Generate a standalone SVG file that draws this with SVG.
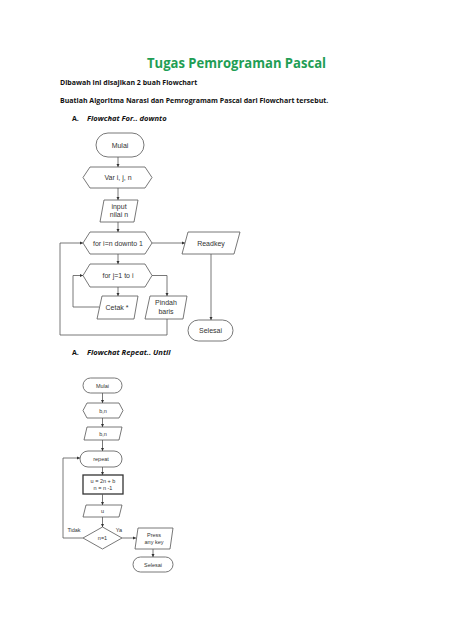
<svg xmlns="http://www.w3.org/2000/svg" width="474" height="632" viewBox="0 0 474 632">
<defs>
<marker id="ah" viewBox="0 0 6 6" refX="6" refY="3" markerWidth="4" markerHeight="4" orient="auto">
<path d="M0,0 L6,3 L0,6 z" fill="#333"/>
</marker>
<style>
.title{font-family:"Open Sans","Liberation Sans",sans-serif;font-weight:bold;font-size:15px;fill:#1f9e55}
.body{font-family:"Open Sans","Liberation Sans",sans-serif;font-weight:bold;font-size:7px;fill:#111}
.ital{font-style:italic;font-size:7.6px}
.shp{fill:#fff;stroke:#555;stroke-width:0.8}
.thick{fill:#fff;stroke:#333;stroke-width:1.3}
.lbl{font-family:"Liberation Sans",Arial,sans-serif;font-size:7px;fill:#333;text-anchor:middle}
.sm{font-size:5.5px}
.ln{fill:none;stroke:#555;stroke-width:0.8}
.arr{fill:none;stroke:#555;stroke-width:0.8;marker-end:url(#ah)}
</style>
</defs>
<rect width="474" height="632" fill="#fff"/>
<text class="title" x="147" y="68" textLength="179" lengthAdjust="spacingAndGlyphs">Tugas Pemrograman Pascal</text>
<text class="body" x="60" y="85">Dibawah ini disajikan 2 buah Flowchart</text>
<text class="body" x="60" y="103">Buatlah Algoritma Narasi dan Pemrogramam Pascal dari  Flowchart tersebut.</text>
<text class="body" x="72" y="121">A.</text>
<text class="body ital" x="87" y="121">Flowchat For.. downto</text>
<text class="body" x="72" y="355">A.</text>
<text class="body ital" x="87" y="355">Flowchat Repeat.. Until</text>

<!-- Flowchart 1 -->
<g id="f1-mulai"><rect class="shp" x="96" y="133" width="48" height="24" rx="12"/><text class="lbl" x="120" y="147.5">Mulai</text></g>
<g id="f1-var"><polygon class="shp" points="83,177.5 90,167 145,167 152,177.5 145,188 90,188"/><text class="lbl" x="118" y="180">Var  i, j,  n</text></g>
<g id="f1-input"><polygon class="shp" points="104,200 138,200 134,222 100,222"/><text class="lbl" x="119" y="209">input</text><text class="lbl" x="119" y="217">nilai  n</text></g>
<g id="f1-fori"><polygon class="shp" points="83,243 90,232 145,232 152,243 145,254 90,254"/><text class="lbl" x="118" y="245.5">for i=n downto 1</text></g>
<g id="f1-readkey"><polygon class="shp" points="188,232 240,232 234,254 182,254"/><text class="lbl" x="211" y="245.5">Readkey</text></g>
<g id="f1-forj"><polygon class="shp" points="83,275.5 90,264 145,264 152,275.5 145,287 90,287"/><text class="lbl" x="118" y="278">for j=1 to i</text></g>
<g id="f1-cetak"><polygon class="shp" points="102,296 138,296 134,319 97,319"/><text class="lbl" x="117" y="310">Cetak *</text></g>
<g id="f1-pindah"><polygon class="shp" points="150,296 187,296 183,319 145,319"/><text class="lbl" x="166" y="305">Pindah</text><text class="lbl" x="166" y="314">baris</text></g>
<g id="f1-selesai"><rect class="shp" x="188" y="320" width="45" height="21" rx="10.5"/><text class="lbl" x="210.5" y="333">Selesai</text></g>

<g id="f1-connectors">
<path class="arr" d="M118,157 V167"/>
<path class="arr" d="M118,188 V200"/>
<path class="arr" d="M118,222 V232"/>
<path class="arr" d="M118,254 V264"/>
<path class="arr" d="M118,287 V296"/>
<path class="arr" d="M152,243 H185"/>
<path class="arr" d="M211,254 V320"/>
<path class="arr" d="M152,275.5 H167 V296"/>
<path class="arr" d="M99,307 H73 V275.5 H83"/>
<path class="arr" d="M167,319 V335 H60 V243 H83"/>
</g>

<!-- Flowchart 2 -->
<g id="f2-mulai"><rect class="shp" x="83" y="378" width="39" height="15" rx="7.5"/><text class="lbl sm" x="102.5" y="387.5">Mulai</text></g>
<g id="f2-bn1"><polygon class="shp" points="83,410.5 87,403 119,403 123,410.5 119,418 87,418"/><text class="lbl sm" x="103" y="412.5">b,n</text></g>
<g id="f2-bn2"><polygon class="shp" points="87,427 122,427 119,440 84,440"/><text class="lbl sm" x="103" y="435.5">b,n</text></g>
<g id="f2-repeat"><rect class="shp" x="80" y="451" width="42" height="16" rx="8"/><text class="lbl sm" x="101" y="461">repeat</text></g>
<g id="f2-proc"><rect class="thick" x="83" y="475" width="40" height="19"/><text class="lbl sm" x="103" y="483">u = 2n + b</text><text class="lbl sm" x="103" y="490">n = n -1</text></g>
<g id="f2-u"><polygon class="shp" points="86,505 122,505 119,517 83,517"/><text class="lbl sm" x="102.5" y="513">u</text></g>
<g id="f2-dec"><polygon class="shp" points="102.5,527 122,538 102.5,549 83,538"/><text class="lbl sm" x="102.5" y="540">n=1</text></g>
<g id="f2-press"><polygon class="shp" points="138,528 173,528 170,549 135,549"/><text class="lbl sm" x="154" y="537">Press</text><text class="lbl sm" x="154" y="544">any key</text></g>
<g id="f2-selesai"><rect class="shp" x="133" y="557" width="40" height="15" rx="7.5"/><text class="lbl sm" x="153" y="566.5">Selesai</text></g>

<g id="f2-connectors">
<path class="arr" d="M102.5,393 V403"/>
<path class="arr" d="M102.5,418 V427"/>
<path class="arr" d="M102.5,440 V451"/>
<path class="arr" d="M102.5,467 V475"/>
<path class="arr" d="M102.5,494 V505"/>
<path class="arr" d="M102.5,517 V527"/>
<path class="arr" d="M122,538 H136"/>
<path class="arr" d="M153,549 V557"/>
<path class="arr" d="M83,538 H63 V458 H80"/>
<text class="lbl sm" x="74" y="532">Tidak</text>
<text class="lbl sm" x="119" y="532">Ya</text>
</g>
</svg>
